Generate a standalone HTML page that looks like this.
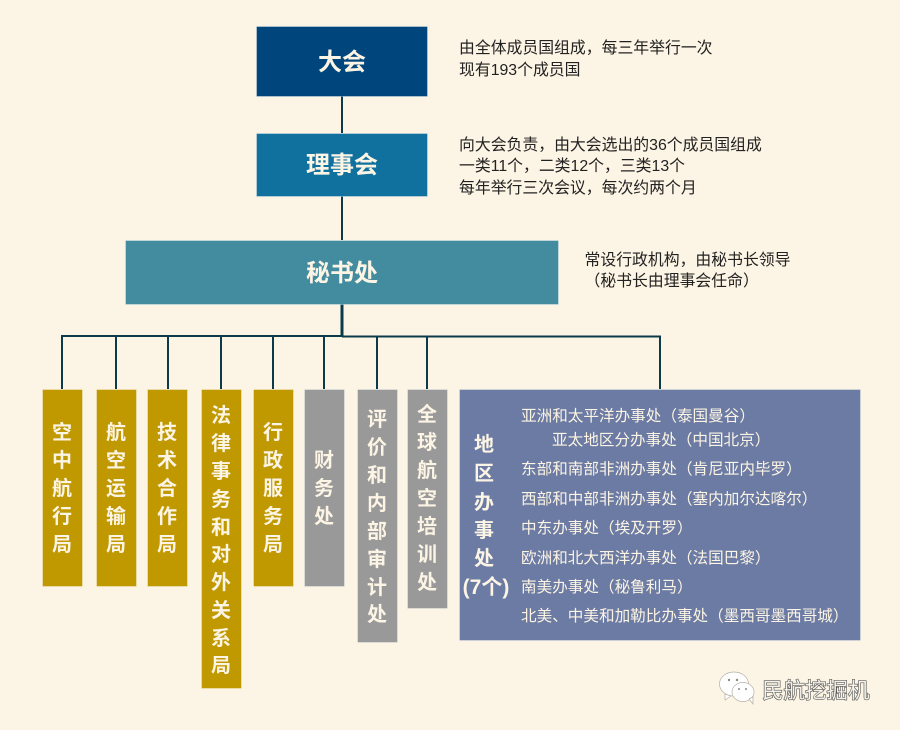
<!DOCTYPE html>
<html lang="zh"><head><meta charset="utf-8"><title>组织结构图</title>
<style>
html,body{margin:0;padding:0;background:#fcf4e4;width:900px;height:730px;overflow:hidden}
svg{display:block}
text{font-family:"Liberation Sans","Noto Sans CJK SC",sans-serif}
.h{font-weight:700;fill:#fcf4e4;text-anchor:middle}
.v{font-weight:700;fill:#fcf4e4;text-anchor:middle;font-size:20px}
.n{font-size:15.85px;fill:#222}
.r{font-size:15.6px;fill:#fcf4e4}
.b{stroke-width:1;stroke-opacity:.35;stroke:#fff}
</style></head><body>
<svg width="900" height="730" viewBox="0 0 900 730" xmlns="http://www.w3.org/2000/svg">
<rect width="900" height="730" fill="#fcf4e4"/>
<g stroke="#0b3b4a" stroke-width="2" fill="none">
<path d="M342 96V133M342 196V240"/>
<path d="M342 304V336" stroke-width="3"/>
<path d="M62 389V336H342M342 336.500H660V389"/>
<path d="M116 336V389M168 336V389M221 336V389M273 336V389M324 336V389M377 336V389M427 336V389"/>
</g>
<g class="b">
<rect x="256.500" y="26.500" width="171" height="70" fill="#00457c"/>
<rect x="256.500" y="133.500" width="171" height="63" fill="#10719f"/>
<rect x="125.500" y="240.500" width="433" height="64" fill="#438b9f"/>
<g fill="#c09900">
<rect x="42.500" y="389.500" width="40" height="197"/>
<rect x="96.500" y="389.500" width="40" height="197"/>
<rect x="147.500" y="389.500" width="40" height="197"/>
<rect x="201.500" y="389.500" width="40" height="299"/>
<rect x="253.500" y="389.500" width="40" height="197"/>
</g>
<g fill="#999999">
<rect x="304.500" y="389.500" width="40" height="197"/>
<rect x="357.500" y="389.500" width="40" height="253"/>
<rect x="407.500" y="389.500" width="40" height="219"/>
</g>
<rect x="459.500" y="389.500" width="401" height="251" fill="#6b7ba4"/>
</g>
<text class="h" x="342" y="70" font-size="24">大会</text>
<text class="h" x="342" y="173" font-size="24">理事会</text>
<text class="h" x="342" y="281" font-size="24">秘书处</text>
<text class="n" x="459" y="53">由全体成员国组成，每三年举行一次</text>
<text class="n" x="459" y="75">现有193个成员国</text>
<text class="n" x="459" y="150">向大会负责，由大会选出的36个成员国组成</text>
<text class="n" x="459" y="171">一类11个，二类12个，三类13个</text>
<text class="n" x="459" y="193">每年举行三次会议，每次约两个月</text>
<text class="n" x="584.500" y="265">常设行政机构，由秘书长领导</text>
<text class="n" x="584.500" y="286">（秘书长由理事会任命）</text>
<g class="v">
<text class="v" x="62"><tspan x="62" y="439">空</tspan><tspan x="62" y="467">中</tspan><tspan x="62" y="495">航</tspan><tspan x="62" y="523">行</tspan><tspan x="62" y="551">局</tspan></text>
<text class="v" x="116"><tspan x="116" y="439">航</tspan><tspan x="116" y="467">空</tspan><tspan x="116" y="495">运</tspan><tspan x="116" y="523">输</tspan><tspan x="116" y="551">局</tspan></text>
<text class="v" x="167"><tspan x="167" y="439">技</tspan><tspan x="167" y="467">术</tspan><tspan x="167" y="495">合</tspan><tspan x="167" y="523">作</tspan><tspan x="167" y="551">局</tspan></text>
<text class="v" x="221"><tspan x="221" y="422">法</tspan><tspan x="221" y="450">律</tspan><tspan x="221" y="478">事</tspan><tspan x="221" y="506">务</tspan><tspan x="221" y="534">和</tspan><tspan x="221" y="561">对</tspan><tspan x="221" y="589">外</tspan><tspan x="221" y="617">关</tspan><tspan x="221" y="645">系</tspan><tspan x="221" y="672">局</tspan></text>
<text class="v" x="273"><tspan x="273" y="439">行</tspan><tspan x="273" y="467">政</tspan><tspan x="273" y="495">服</tspan><tspan x="273" y="523">务</tspan><tspan x="273" y="551">局</tspan></text>
<text class="v" x="324"><tspan x="324" y="467">财</tspan><tspan x="324" y="495">务</tspan><tspan x="324" y="523">处</tspan></text>
<text class="v" x="377"><tspan x="377" y="426">评</tspan><tspan x="377" y="454">价</tspan><tspan x="377" y="482">和</tspan><tspan x="377" y="510">内</tspan><tspan x="377" y="538">部</tspan><tspan x="377" y="566">审</tspan><tspan x="377" y="594">计</tspan><tspan x="377" y="621">处</tspan></text>
<text class="v" x="427"><tspan x="427" y="421">全</tspan><tspan x="427" y="449">球</tspan><tspan x="427" y="477">航</tspan><tspan x="427" y="505">空</tspan><tspan x="427" y="533">培</tspan><tspan x="427" y="561">训</tspan><tspan x="427" y="589">处</tspan></text>
<text class="v" x="484"><tspan x="484" y="451">地</tspan><tspan x="484" y="480">区</tspan><tspan x="484" y="509">办</tspan><tspan x="484" y="537">事</tspan><tspan x="484" y="565">处</tspan><tspan x="486" y="594" font-size="21">(7个)</tspan></text>
</g>
<text class="r" x="521" y="421">亚洲和太平洋办事处（泰国曼谷）</text>
<text class="r" x="552" y="445">亚太地区分办事处（中国北京）</text>
<text class="r" x="521" y="474">东部和南部非洲办事处（肯尼亚内毕罗）</text>
<text class="r" x="521" y="504">西部和中部非洲办事处（塞内加尔达喀尔）</text>
<text class="r" x="521" y="533">中东办事处（埃及开罗）</text>
<text class="r" x="521" y="563">欧洲和北大西洋办事处（法国巴黎）</text>
<text class="r" x="521" y="592">南美办事处（秘鲁利马）</text>
<text class="r" x="521" y="621">北美、中美和加勒比办事处（墨西哥墨西哥城）</text>
<g fill="#ffffff" stroke="#b5b0a6" stroke-width=".7">
<ellipse cx="734" cy="684" rx="14.500" ry="12"/>
<path d="M725 694l0 6 6-4z"/>
<ellipse cx="743" cy="692" rx="11" ry="9.500"/>
<path d="M749 699l4 5 0-7z"/>
</g>
<g fill="#8a8a84"><circle cx="729" cy="680" r="1.200"/><circle cx="737" cy="680" r="1.200"/><circle cx="739" cy="689" r="1"/><circle cx="746" cy="689" r="1"/></g>
<text x="762" y="698" font-size="21.500" fill="#f4f2ec" stroke="#5c5a55" stroke-width="1.300" paint-order="stroke">民航挖掘机</text>
</svg>
</body></html>
